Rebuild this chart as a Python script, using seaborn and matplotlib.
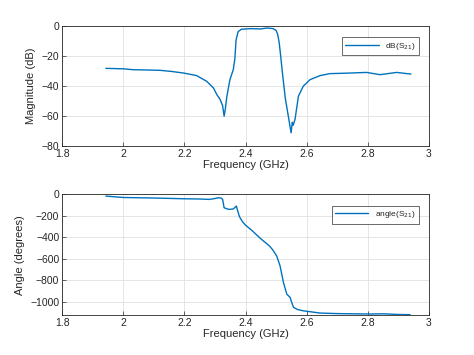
import numpy as np
import pandas as pd
import matplotlib
matplotlib.use('Agg')
import matplotlib.pyplot as plt
import seaborn as sns

# valores
freq_mag = [1.943, 2.0, 2.033, 2.08, 2.12, 2.16, 2.197, 2.24, 2.273, 2.295, 2.306, 2.317,
            2.325, 2.33, 2.334, 2.339, 2.349, 2.36, 2.365, 2.369, 2.376, 2.387, 2.415,
            2.45, 2.47, 2.49, 2.5, 2.505, 2.51, 2.515, 2.52, 2.53, 2.54, 2.549, 2.553,
            2.556, 2.562, 2.573, 2.589, 2.611, 2.644, 2.676, 2.731, 2.796, 2.84, 2.894,
            2.941]
mag_db = [-28.2, -28.5, -29.1, -29.3, -29.5, -30.3, -31.3, -33.0, -36.8, -41.2, -45.6,
          -48.9, -53.0, -60.0, -55.0, -46.7, -35.7, -29.0, -22.0, -9.3, -3.7, -2.2, -1.8,
          -2.0, -1.4, -1.8, -3.0, -5.5, -11.0, -20.0, -30.0, -48.0, -60.0, -71.0, -64.0,
          -66.0, -62.0, -46.7, -40.0, -35.7, -33.0, -31.7, -31.4, -30.9, -32.4, -30.9,
          -32.0]

freq_ang = [1.943, 2.0, 2.1, 2.2, 2.25, 2.28, 2.3, 2.31, 2.32, 2.325, 2.33, 2.345,
            2.36, 2.37, 2.375, 2.38, 2.39, 2.4, 2.42, 2.45, 2.47, 2.48, 2.49, 2.502,
            2.513, 2.524, 2.535, 2.546, 2.551, 2.557, 2.57, 2.589, 2.644, 2.7, 2.807,
            2.85, 2.9, 2.938]
ang_deg = [-15, -28, -33, -40, -42, -46, -38, -31, -33, -45, -124, -139, -135, -108,
           -159, -206, -254, -286, -333, -413, -460, -485, -520, -573, -666, -820, -929,
           -960, -1006, -1052, -1072, -1084, -1105, -1110, -1114, -1112, -1118, -1120]

df_mag = pd.DataFrame({'Frequency': freq_mag, 'Magnitude': mag_db})
df_ang = pd.DataFrame({'Frequency': freq_ang, 'Angle': ang_deg})

sns.set_style('ticks')
plt.rcParams['font.family'] = ['Liberation Sans', 'DejaVu Sans']
plt.rcParams['xtick.direction'] = 'in'
plt.rcParams['ytick.direction'] = 'in'

cor = '#0072BD'
fig, (ax1, ax2) = plt.subplots(2, 1, figsize=(4.74, 3.55), dpi=100)
fig.subplots_adjust(left=0.131, right=0.905, top=0.927, bottom=0.113, hspace=0.4)

sns.lineplot(data=df_mag, x='Frequency', y='Magnitude', ax=ax1, color=cor,
             linewidth=1.0, label='dB(S$_{21}$)')
ax1.set_xlim(1.8, 3)
ax1.set_ylim(-80, 0)
ax1.set_xticks([1.8, 2, 2.2, 2.4, 2.6, 2.8, 3])
ax1.set_xticklabels(['1.8', '2', '2.2', '2.4', '2.6', '2.8', '3'])
ax1.set_yticks([-80, -60, -40, -20, 0])
ax1.set_xlabel('Frequency (GHz)', fontsize=8, labelpad=1)
ax1.set_ylabel('Magnitude (dB)', fontsize=8)

sns.lineplot(data=df_ang, x='Frequency', y='Angle', ax=ax2, color=cor,
             linewidth=1.0, label='angle(S$_{21}$)')
ax2.set_xlim(1.8, 3)
ax2.set_ylim(-1122, 0)
ax2.set_xticks([1.8, 2, 2.2, 2.4, 2.6, 2.8, 3])
ax2.set_xticklabels(['1.8', '2', '2.2', '2.4', '2.6', '2.8', '3'])
ax2.set_yticks([-1000, -800, -600, -400, -200, 0])
ax2.set_xlabel('Frequency (GHz)', fontsize=8, labelpad=1)
ax2.set_ylabel('Angle (degrees)', fontsize=8)

for ax in (ax1, ax2):
    ax.grid(True, color='#e0e0e0', linewidth=0.6)
    ax.tick_params(labelsize=7.5, length=3, width=0.5, colors='#262626', pad=2)
    for s in ax.spines.values():
        s.set_visible(True)
        s.set_color('#262626')
        s.set_linewidth(0.6)
    leg = ax.legend(loc='upper right', fontsize=6, frameon=True, fancybox=False,
                    handlelength=4, borderpad=0.4, bbox_to_anchor=(0.985, 0.94))
    leg.get_frame().set_edgecolor('#262626')
    leg.get_frame().set_linewidth(0.6)

fig.savefig('out.png', dpi=100)
